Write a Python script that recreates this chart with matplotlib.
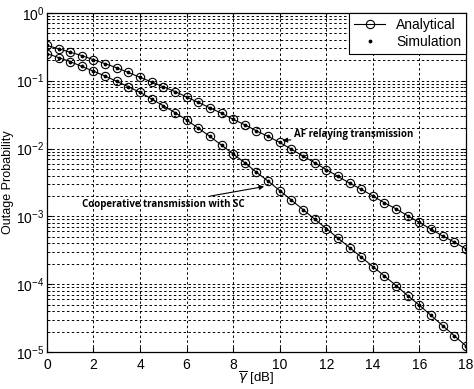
import numpy as np
import matplotlib
matplotlib.use('Agg')
import matplotlib.pyplot as plt

plt.rcParams['font.family'] = ['Liberation Sans', 'DejaVu Sans']
plt.rcParams['mathtext.fontset'] = 'dejavusans'

snr_db = [0, 0.5, 1, 1.5, 2, 2.5, 3, 3.5, 4, 4.5, 5, 5.5, 6, 6.5, 7, 7.5, 8, 8.5, 9,
          9.5, 10, 10.5, 11, 11.5, 12, 12.5, 13, 13.5, 14, 14.5, 15, 15.5, 16, 16.5,
          17, 17.5, 18]

# AF relaying transmission (upper curve)
af_analytical = [0.331, 0.295, 0.263, 0.234, 0.204, 0.178, 0.155, 0.132, 0.112,
                 0.0955, 0.0813, 0.0692, 0.0575, 0.0479, 0.0398, 0.0331, 0.0269,
                 0.0224, 0.0182, 0.0151, 0.0123, 0.00977, 0.00776, 0.00617, 0.0049,
                 0.00389, 0.00309, 0.00251, 0.002, 0.00158, 0.00129, 0.00102,
                 8.13e-4, 6.46e-4, 5.13e-4, 4.17e-4, 3.31e-4]
af_simulation = [0.331, 0.295, 0.263, 0.234, 0.204, 0.178, 0.155, 0.132, 0.112,
                 0.0955, 0.0813, 0.0692, 0.0575, 0.0479, 0.0398, 0.0331, 0.0269,
                 0.0224, 0.0182, 0.0151, 0.0123, 0.00977, 0.00776, 0.00617, 0.0049,
                 0.00389, 0.00309, 0.00251, 0.002, 0.00158, 0.00129, 0.00102,
                 8.13e-4, 6.46e-4, 5.13e-4, 4.17e-4, 3.31e-4]

# cooperative transmission with SC (lower curve)
sc_analytical = [0.251, 0.219, 0.191, 0.162, 0.138, 0.117, 0.0977, 0.0813, 0.0676,
                 0.0537, 0.0427, 0.0339, 0.0263, 0.02, 0.0151, 0.0112, 0.00832,
                 0.00617, 0.00447, 0.00331, 0.0024, 0.00174, 0.00126, 9.12e-4,
                 6.61e-4, 4.79e-4, 3.47e-4, 2.51e-4, 1.82e-4, 1.32e-4, 9.55e-5,
                 6.76e-5, 4.9e-5, 3.47e-5, 2.45e-5, 1.74e-5, 1.23e-5]
sc_simulation = [0.251, 0.219, 0.191, 0.162, 0.138, 0.117, 0.0977, 0.0813, 0.0676,
                 0.0537, 0.0427, 0.0339, 0.0263, 0.02, 0.0151, 0.0112, 0.00832,
                 0.00617, 0.00447, 0.00331, 0.0024, 0.00174, 0.00126, 9.12e-4,
                 6.61e-4, 4.79e-4, 3.47e-4, 2.51e-4, 1.82e-4, 1.32e-4, 9.55e-5,
                 6.76e-5, 4.9e-5, 3.47e-5, 2.45e-5, 1.74e-5, 1.23e-5]

x_ticks = [0, 2, 4, 6, 8, 10, 12, 14, 16, 18]

fig = plt.figure(figsize=(4.74, 3.89), dpi=100)
ax = fig.add_axes([0.099, 0.095, 0.884, 0.872])

circ = dict(marker='o', markersize=6, markerfacecolor='none', markeredgecolor='k',
            markeredgewidth=0.8, color='k', linewidth=0.8)
ax.semilogy(snr_db, af_analytical, label='Analytical', **circ)
ax.semilogy(snr_db, sc_analytical, **circ)
ax.semilogy(snr_db, af_simulation, linestyle='none', marker='.', markersize=3.5,
            color='k', label='Simulation')
ax.semilogy(snr_db, sc_simulation, linestyle='none', marker='.', markersize=3.5,
            color='k')

ax.set_xlim(0, 18)
ax.set_ylim(1e-5, 1)
ax.set_xticks(x_ticks)
ax.grid(True, which='major', linestyle=(0, (2.5, 2.5)), color='k', linewidth=0.7)
ax.grid(True, which='minor', axis='y', linestyle=(0, (2.5, 2.5)), color='k',
        linewidth=0.7)
ax.tick_params(which='both', direction='in', top=True, right=True, labelsize=10)
ax.tick_params(axis='x', pad=4)
ax.tick_params(axis='y', pad=2)
for s in ax.spines.values():
    s.set_linewidth(0.9)

ax.set_ylabel('Outage Probability', fontsize=9, labelpad=1)
ax.set_xlabel(r'$\overline{\gamma}$ [dB]', fontsize=9.5, labelpad=-1)

leg = ax.legend(loc='upper right', fontsize=10, fancybox=False, framealpha=1,
                edgecolor='k', borderaxespad=0, handlelength=2.2,
                labelspacing=0.25, borderpad=0.35)
leg.get_frame().set_linewidth(0.8)

ann = dict(fontsize=7, fontweight='bold', family=['Open Sans', 'DejaVu Sans'])
ax.annotate('AF relaying transmission', xy=(10.0, 1.3e-2), xytext=(10.6, 1.6e-2),
            ha='left', va='center',
            arrowprops=dict(arrowstyle='-|>', color='k', lw=0.8,
                            shrinkA=0, shrinkB=2), **ann)
ax.annotate('Cooperative transmission with SC', xy=(9.45, 2.8e-3),
            xytext=(8.5, 1.5e-3), ha='right', va='center',
            arrowprops=dict(arrowstyle='-|>', color='k', lw=0.8,
                            shrinkA=0, shrinkB=2), **ann)

fig.savefig('out.png', dpi=100)
